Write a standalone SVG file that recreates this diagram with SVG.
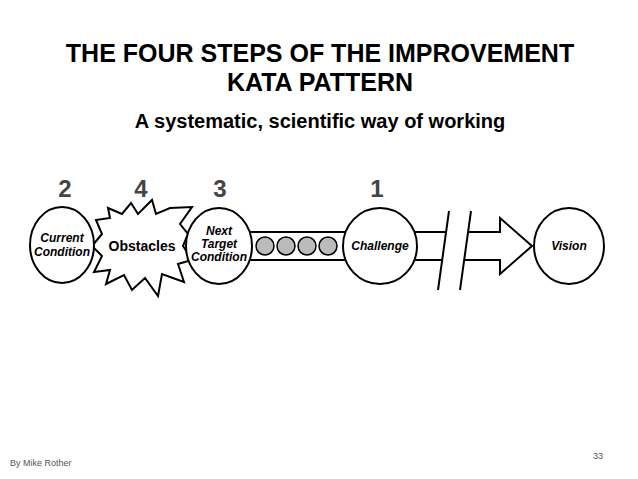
<svg xmlns="http://www.w3.org/2000/svg" width="638" height="479" viewBox="0 0 638 479">
<style>
.t{font-family:"Liberation Sans",Arial,sans-serif;font-weight:bold;fill:#000}
.n{font-family:"Liberation Sans",Arial,sans-serif;font-weight:bold;font-size:24px;fill:#444;text-anchor:middle}
.l{font-family:"Liberation Sans",Arial,sans-serif;font-weight:bold;font-style:italic;font-size:12px;text-anchor:middle}
.s{fill:#fff;stroke:#000;stroke-width:2}
</style>
<rect width="638" height="479" fill="#fff"/>
<text class="t" x="320" y="62" font-size="25" text-anchor="middle">THE FOUR STEPS OF THE IMPROVEMENT</text>
<text class="t" x="320" y="91" font-size="25" text-anchor="middle">KATA PATTERN</text>
<text class="t" x="320" y="128" font-size="20" text-anchor="middle">A systematic, scientific way of working</text>
<text class="n" x="65" y="197">2</text>
<text class="n" x="141" y="197">4</text>
<text class="n" x="220" y="197">3</text>
<text class="n" x="377" y="197">1</text>
<g id="connectors">
<path class="s" d="M220,232 H500 V218 L532,246 L500,274 V260 H220 Z"/>
<path d="M446.5,230 L468.5,230 L464,262 L442,262 Z" fill="#fff"/>
<path d="M449,211 L438,290 M471,211 L460,290" stroke="#000" stroke-width="2" fill="none"/>
</g>
<g id="dots" fill="#bbb" stroke="#000" stroke-width="1.5">
<circle cx="265" cy="246" r="9"/><circle cx="286" cy="246" r="9"/><circle cx="307" cy="246" r="9"/><circle cx="328" cy="246" r="9"/>
</g>
<g id="obstacles">
<path class="s" d="M96,220 L110,218 L108,208 L122,214 L131,203 L138,214 L152,200 L156,214 L170,208 L192,207 L180,224 L188,234 L183,246 L192,260 L178,264 L184,282 L162,274 L158,296 L145,278 L132,290 L124,275 L106,284 L110,270 L94,272 L102,256 L92,246 L102,234 Z"/>
<text class="t" x="142" y="251" font-size="14" text-anchor="middle">Obstacles</text>
</g>
<g id="current"><ellipse class="s" cx="62" cy="245" rx="32" ry="38"/>
<text class="l" x="62" y="242">Current</text><text class="l" x="62" y="256">Condition</text></g>
<g id="next"><ellipse class="s" cx="219" cy="246" rx="33" ry="38"/>
<text class="l" x="219" y="235">Next</text><text class="l" x="219" y="248">Target</text><text class="l" x="219" y="261">Condition</text></g>
<g id="challenge"><ellipse class="s" cx="380" cy="246" rx="37" ry="38"/>
<text class="l" x="380" y="250" font-size="13">Challenge</text></g>
<g id="vision"><ellipse class="s" cx="569" cy="246" rx="35" ry="38"/>
<text class="l" x="569" y="250" font-size="13">Vision</text></g>
<text x="10" y="466" font-family="Liberation Sans,Arial,sans-serif" font-size="9" fill="#555">By Mike Rother</text>
<text x="593" y="459" font-family="Liberation Sans,Arial,sans-serif" font-size="9" fill="#555">33</text>
</svg>
